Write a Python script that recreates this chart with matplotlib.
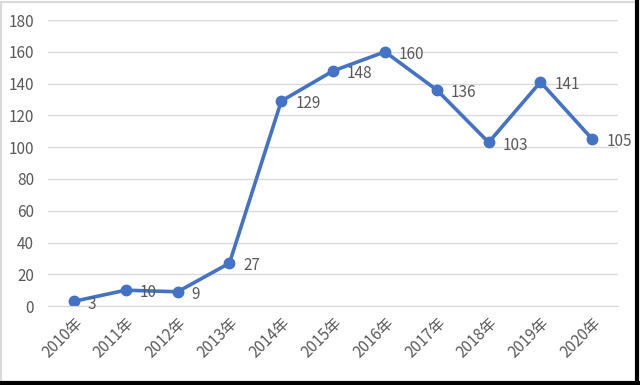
import matplotlib.pyplot as plt
from matplotlib.lines import Line2D

plt.rcParams['font.family'] = ['Noto Sans CJK SC', 'DejaVu Sans']

years = ['2010年', '2011年', '2012年', '2013年', '2014年', '2015年',
         '2016年', '2017年', '2018年', '2019年', '2020年']
counts = [3, 10, 9, 27, 129, 148, 160, 136, 103, 141, 105]

fig = plt.figure(figsize=(6.4, 3.85), dpi=100)
ax = fig.add_axes([0.075, 0.205, 0.891, 0.743])

x = range(len(years))
ax.plot(x, counts, color='#4472C4', linewidth=2.6, marker='o', markersize=7.5)

for i, v in enumerate(counts):
    ax.annotate(str(v), (i, v), xytext=(10, -2), textcoords='offset points',
                ha='left', va='center', fontsize=11, color='#595959')

ax.set_xlim(-0.5, len(years) - 0.5)
ax.set_ylim(0, 180)
ax.set_yticks(range(0, 181, 20))
ax.set_xticks(list(x))
ax.set_xticklabels(years, rotation=45, ha='right', rotation_mode='anchor')
ax.grid(axis='y', color='#d9d9d9', linewidth=1)
ax.set_axisbelow(True)
for s in ['top', 'right', 'left']:
    ax.spines[s].set_visible(False)
ax.spines['bottom'].set_color('#d9d9d9')
ax.tick_params(axis='both', length=0, colors='#595959', labelsize=11)
ax.tick_params(axis='x', pad=6)
ax.tick_params(axis='y', pad=10)

# frame with shadow
fig.add_artist(Line2D([0.002, 0.994], [0.996, 0.996], color='#d9d9d9', lw=1.5, transform=fig.transFigure))
fig.add_artist(Line2D([0.002, 0.002], [0.01, 0.996], color='#d9d9d9', lw=1.5, transform=fig.transFigure))
fig.add_artist(Line2D([0.0, 1.0], [0.004, 0.004], color='black', lw=3, transform=fig.transFigure))
fig.add_artist(Line2D([0.996, 0.996], [0.0, 1.0], color='black', lw=3, transform=fig.transFigure))

fig.savefig('out.png', dpi=100)
